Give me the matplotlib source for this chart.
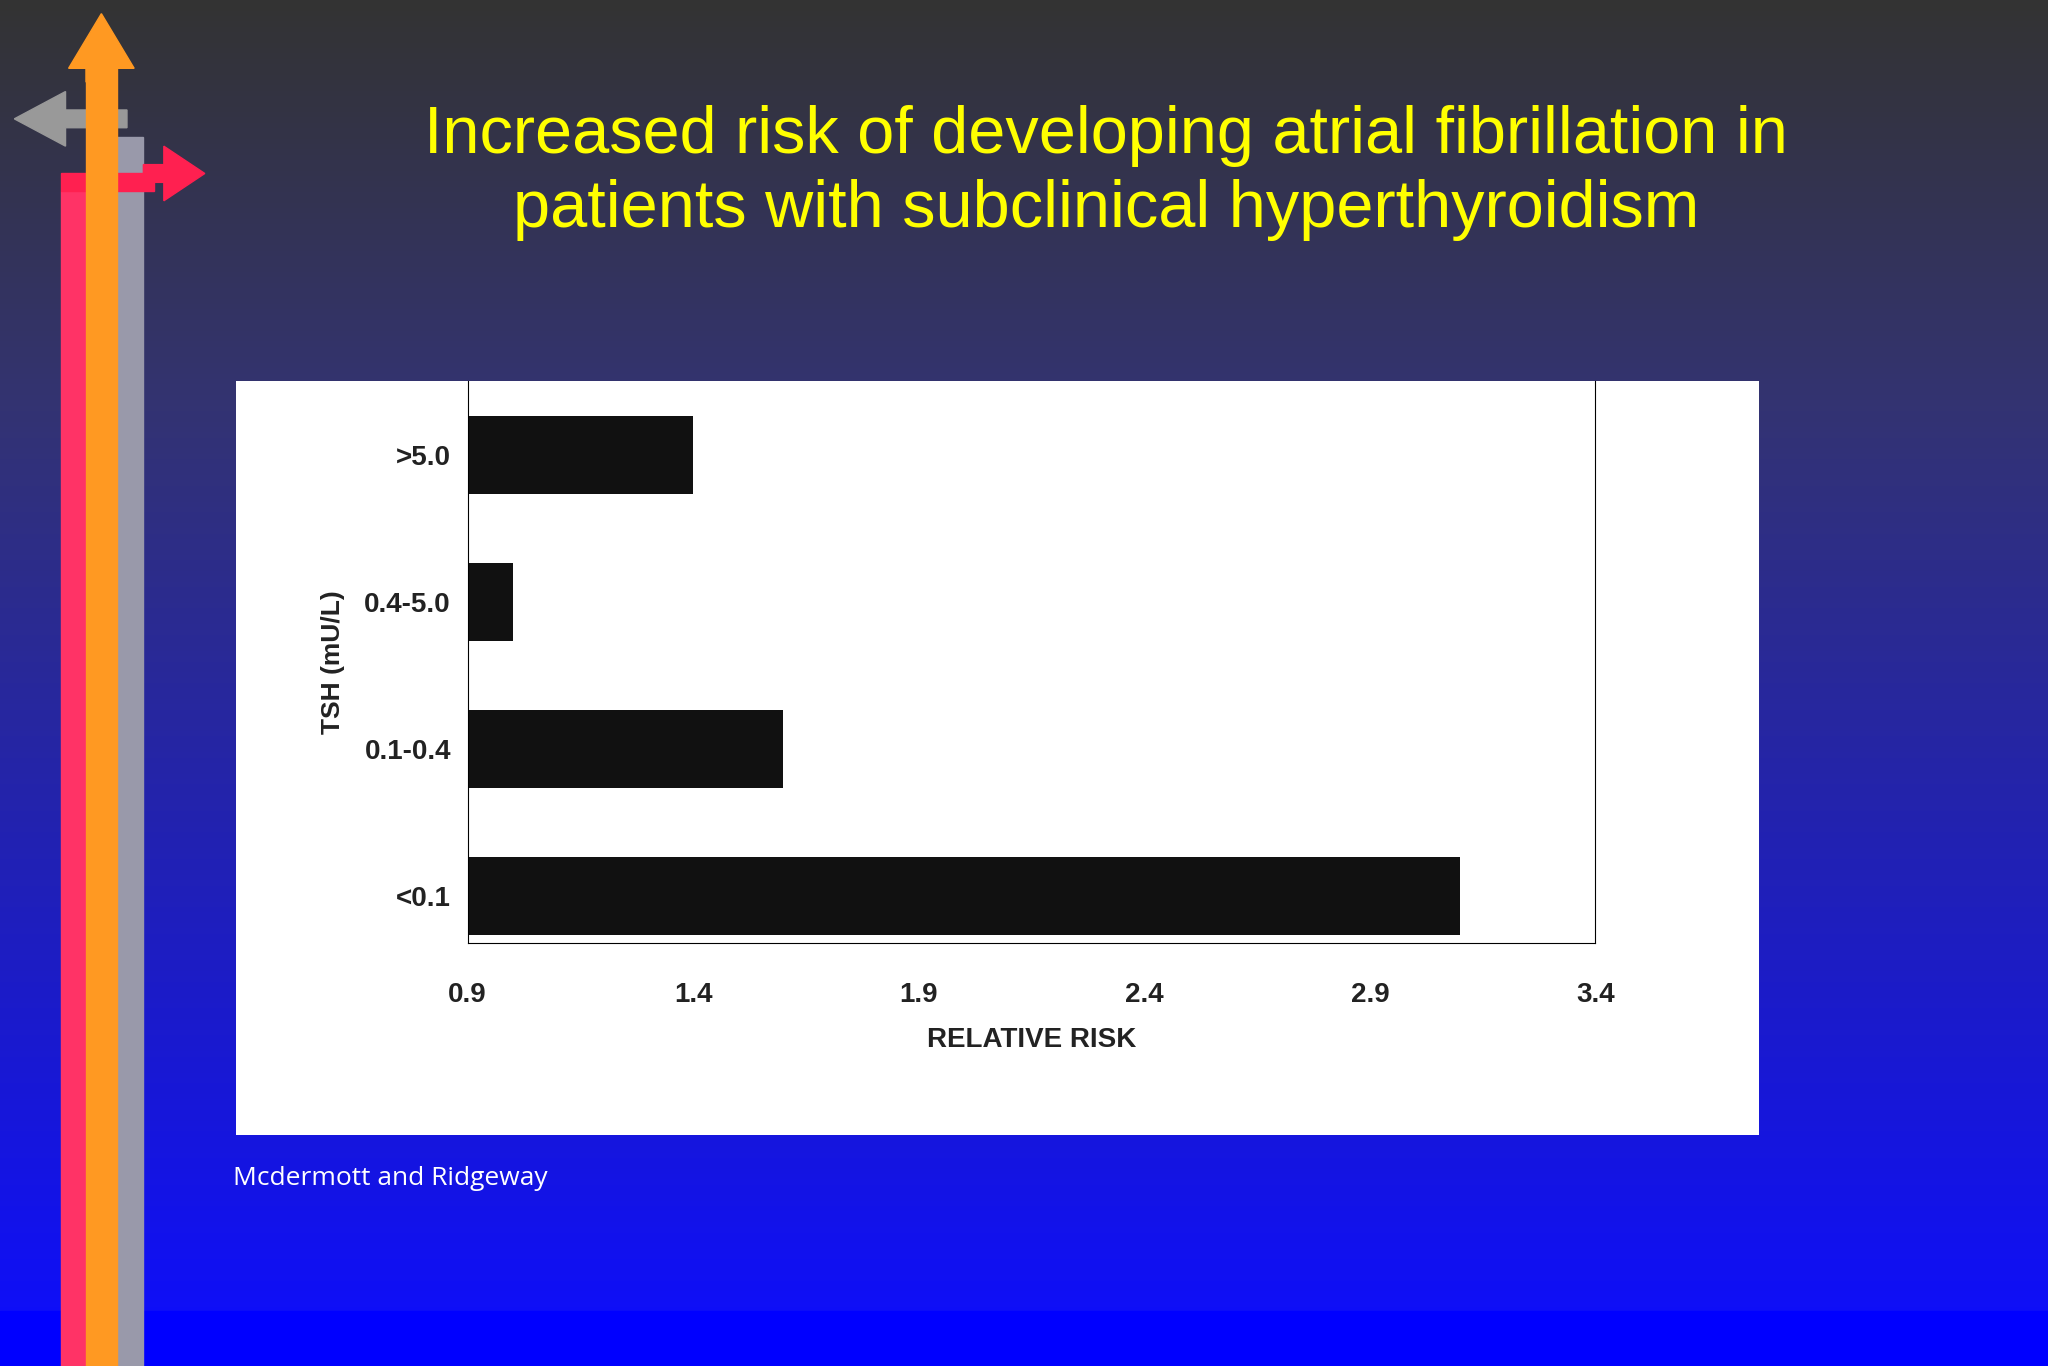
import matplotlib
matplotlib.use("Agg")
import matplotlib.pyplot as plt
import numpy as np
from matplotlib.patches import FancyArrow, Rectangle

categories = ["<0.1", "0.1-0.4", "0.4-5.0", ">5.0"]
values = [3.1, 1.6, 1.0, 1.4]
xticks = [0.9, 1.4, 1.9, 2.4, 2.9, 3.4]

fig = plt.figure(figsize=(20.48, 13.66), dpi=100)
bg = fig.add_axes([0, 0, 1, 1])
grad = np.zeros((256, 1, 3))
t = np.linspace(0, 1, 256)[:, None]
top = np.array([0.2, 0.2, 0.2]); mid = np.array([0.2, 0.2, 0.45]); bot = np.array([0.05, 0.05, 1.0])
g = np.where(t < 0.3, top + (mid - top) * (t / 0.3), mid + (bot - mid) * ((t - 0.3) / 0.7))
grad = g[:, None, :].reshape(256, 1, 3)
bg.imshow(grad, aspect="auto", extent=[0, 1, 0, 1], origin="upper")
bg.add_patch(Rectangle((0, 0), 1, 0.04, color="#0000ff"))
# left decorative arrows
bg.add_patch(Rectangle((0.057, 0.0), 0.013, 0.9, color="#9999aa"))
bg.add_patch(Rectangle((0.030, 0.0), 0.013, 0.86, color="#ff3366"))
bg.add_patch(Rectangle((0.030, 0.86), 0.045, 0.013, color="#ff2050"))
bg.add_patch(FancyArrow(0.07, 0.873, 0.01, 0, width=0.013, head_width=0.04, head_length=0.02, color="#ff2050"))
bg.add_patch(FancyArrow(0.062, 0.913, -0.03, 0, width=0.013, head_width=0.04, head_length=0.025, color="#999999"))
bg.add_patch(Rectangle((0.042, 0.0), 0.015, 0.95, color="#ff9922"))
bg.add_patch(FancyArrow(0.0495, 0.94, 0, 0.01, width=0.015, head_width=0.032, head_length=0.04, color="#ff9922"))
bg.set_xlim(0, 1); bg.set_ylim(0, 1); bg.axis("off")

fig.text(0.54, 0.873, "Increased risk of developing atrial fibrillation in\npatients with subclinical hyperthyroidism",
         ha="center", va="center", color="#ffff00", fontsize=48, family="Liberation Sans", linespacing=1.25)

panel = fig.add_axes([0.1154, 0.169, 0.7436, 0.5518])
panel.set_facecolor("white"); panel.set_xticks([]); panel.set_yticks([])
for s in panel.spines.values():
    s.set_visible(False)

ax = fig.add_axes([0.2283, 0.3098, 0.5507, 0.411])
ax.barh(range(len(categories)), [v - 0.9 for v in values], left=0.9, height=0.53, color="#111111")
ax.set_xlim(0.9, 3.4)
ax.set_ylim(-0.32, 3.5)
ax.set_yticks(range(len(categories)))
ax.set_yticklabels(categories, fontsize=20, fontweight="bold", color="#222222", family="Liberation Sans")
ax.set_xticks(xticks)
ax.set_xticklabels([str(x) for x in xticks], fontsize=20, fontweight="bold", color="#222222", family="Liberation Sans")
ax.tick_params(length=0, pad=12)
ax.tick_params(axis="x", pad=28)
ax.spines["top"].set_visible(False)
ax.set_xlabel("RELATIVE RISK", fontsize=20, fontweight="bold", color="#222222", family="Liberation Sans", labelpad=14)
ax.set_ylabel("TSH (mU/L)", fontsize=19, fontweight="bold", color="#222222", family="Liberation Sans", labelpad=14)

fig.text(0.114, 0.137, "Mcdermott and Ridgeway", color="white", fontsize=19, family="Open Sans", va="center")

fig.savefig("out.png", dpi=100)
